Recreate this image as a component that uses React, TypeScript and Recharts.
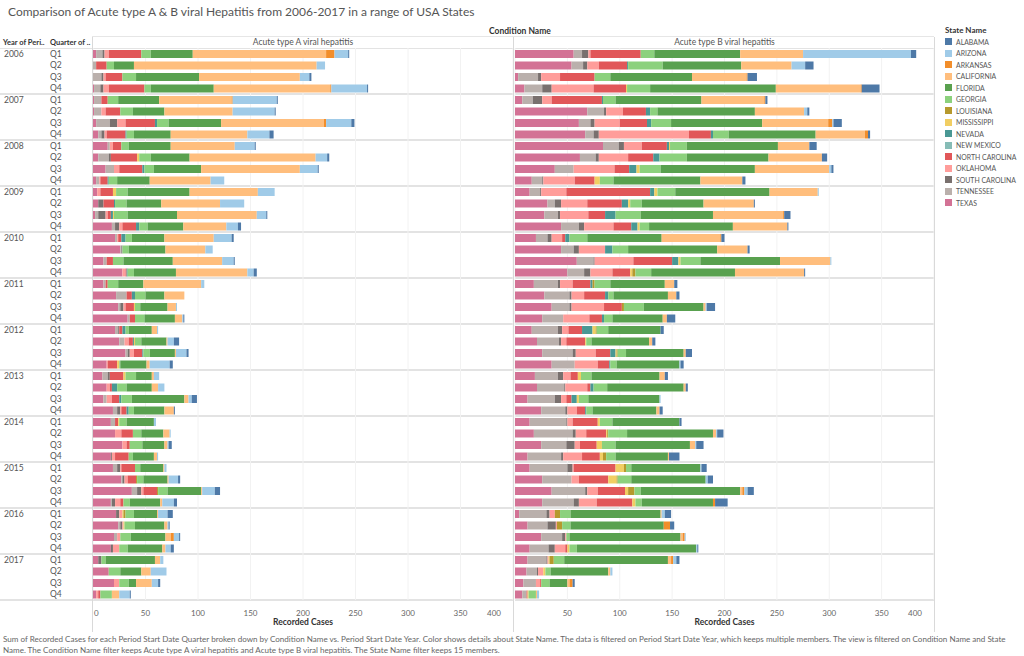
import { BarChart, Bar, XAxis, YAxis, CartesianGrid } from 'recharts'

const years = [2006, 2007, 2008, 2009, 2010, 2011, 2012, 2013, 2014, 2015, 2016, 2017]
const quarters = ['Q1', 'Q2', 'Q3', 'Q4']
const xTicks = [0, 50, 100, 150, 200, 250, 300, 350, 400]

// legend order (alphabetical), bars stack in the reverse order
const legendStates = [
  'ALABAMA', 'ARIZONA', 'ARKANSAS', 'CALIFORNIA', 'FLORIDA', 'GEORGIA', 'LOUISIANA', 'MISSISSIPPI',
  'NEVADA', 'NEW MEXICO', 'NORTH CAROLINA', 'OKLAHOMA', 'SOUTH CAROLINA', 'TENNESSEE', 'TEXAS',
]
const stateColors = [
  '#4E79A7', '#A0CBE8', '#F28E2B', '#FFBE7D', '#59A14F', '#8CD17D', '#B6992D', '#F1CE63',
  '#499894', '#86BCB6', '#E15759', '#FF9D9A', '#79706E', '#BAB0AC', '#D37295',
]

// Acute type A viral hepatitis, 2006 Q1 .. 2017 Q4
const alA = [1, 0, 2, 1, 1, 1, 3, 4, 1, 2, 1, 0, 0, 0, 1, 3, 2, 0, 1, 3, 0, 0, 0, 1, 0, 5, 2, 3, 0, 0, 5, 1, 0, 0, 3, 0, 0, 2, 5, 3, 5, 1, 1, 3, 0, 0, 2, 1]
const azA = [13, 8, 9, 34, 42, 40, 24, 21, 19, 11, 17, 13, 16, 23, 9, 11, 17, 7, 11, 6, 3, 0, 1, 1, 1, 6, 10, 19, 5, 6, 3, 0, 2, 1, 1, 1, 2, 9, 12, 11, 9, 1, 5, 5, 3, 15, 6, 10]
const arA = [8, 0, 0, 1, 1, 0, 2, 0, 0, 0, 0, 0, 0, 0, 0, 0, 0, 0, 0, 0, 0, 0, 0, 0, 0, 0, 0, 0, 0, 0, 0, 0, 0, 0, 0, 0, 0, 0, 0, 0, 0, 0, 3, 0, 0, 0, 0, 0]
const caA = [127, 174, 96, 111, 69, 65, 98, 73, 61, 120, 94, 58, 65, 56, 76, 41, 47, 38, 47, 68, 55, 19, 8, 7, 5, 1, 1, 3, 2, 6, 4, 9, 0, 6, 3, 3, 1, 1, 1, 2, 1, 3, 5, 3, 5, 9, 15, 7]
const flA = [40, 19, 60, 60, 39, 30, 50, 35, 40, 37, 45, 31, 59, 33, 47, 34, 31, 35, 47, 40, 24, 18, 26, 29, 22, 24, 24, 25, 15, 24, 50, 29, 26, 21, 21, 20, 22, 23, 32, 29, 22, 28, 33, 33, 47, 20, 7, 0]
const gaA = [9, 7, 13, 6, 10, 12, 11, 7, 7, 11, 9, 8, 11, 11, 13, 8, 6, 6, 10, 6, 10, 10, 5, 9, 3, 6, 6, 1, 10, 9, 10, 5, 7, 8, 12, 4, 5, 6, 9, 6, 8, 10, 10, 8, 4, 11, 9, 11]
const laA = [0, 0, 0, 0, 0, 0, 0, 0, 0, 0, 0, 0, 0, 0, 0, 0, 0, 0, 0, 0, 0, 0, 0, 0, 0, 0, 0, 0, 0, 0, 0, 0, 0, 0, 0, 0, 0, 1, 1, 0, 2, 0, 0, 0, 0, 0, 0, 0]
const msA = [0, 0, 0, 0, 0, 0, 0, 0, 0, 2, 0, 0, 3, 0, 1, 0, 0, 0, 0, 0, 0, 0, 1, 0, 0, 1, 0, 2, 2, 0, 0, 0, 1, 0, 0, 0, 0, 0, 0, 0, 1, 1, 0, 0, 0, 0, 0, 0]
const nvA = [0, 0, 0, 0, 0, 0, 2, 1, 0, 0, 2, 1, 0, 1, 2, 3, 4, 0, 0, 1, 0, 3, 0, 0, 3, 1, 1, 0, 0, 5, 2, 2, 0, 0, 0, 0, 0, 0, 0, 0, 0, 0, 0, 0, 0, 0, 0, 0]
const nmA = [0, 0, 0, 0, 0, 0, 0, 0, 0, 0, 0, 0, 0, 0, 0, 0, 0, 0, 0, 0, 0, 0, 0, 0, 0, 0, 0, 0, 0, 0, 0, 0, 0, 0, 0, 0, 0, 0, 0, 0, 0, 0, 0, 0, 0, 0, 0, 0]
const ncA = [31, 10, 16, 34, 6, 14, 28, 18, 8, 25, 22, 7, 12, 10, 3, 13, 3, 0, 6, 1, 2, 5, 8, 5, 3, 4, 8, 9, 13, 2, 7, 5, 3, 11, 3, 13, 13, 8, 13, 3, 0, 0, 0, 0, 0, 0, 0, 2]
const okA = [4, 0, 2, 5, 0, 4, 8, 2, 3, 0, 5, 1, 3, 0, 2, 3, 1, 0, 0, 3, 0, 0, 2, 0, 0, 4, 4, 1, 0, 3, 5, 1, 0, 6, 4, 3, 1, 3, 2, 5, 3, 1, 3, 6, 0, 0, 5, 2]
const scA = [2, 0, 2, 3, 0, 0, 7, 3, 0, 2, 0, 0, 0, 5, 7, 4, 0, 1, 0, 0, 0, 0, 3, 0, 1, 0, 2, 0, 2, 0, 0, 3, 0, 0, 0, 1, 3, 2, 4, 3, 3, 2, 0, 2, 3, 0, 0, 0]
const tnA = [6, 3, 8, 6, 7, 7, 13, 3, 2, 10, 8, 3, 0, 0, 3, 3, 2, 1, 3, 0, 2, 10, 2, 2, 3, 5, 2, 0, 5, 0, 3, 4, 4, 0, 0, 0, 4, 1, 5, 1, 0, 2, 3, 0, 0, 0, 0, 0]
const txA = [3, 0, 0, 1, 1, 1, 3, 5, 14, 5, 12, 3, 4, 5, 2, 18, 21, 26, 10, 28, 10, 22, 24, 33, 21, 25, 31, 13, 9, 13, 10, 19, 17, 21, 28, 17, 19, 27, 37, 17, 22, 24, 20, 17, 5, 15, 20, 3]

// Acute type B viral hepatitis, 2006 Q1 .. 2017 Q4
const alB = [5, 8, 9, 17, 2, 2, 8, 2, 7, 5, 2, 3, 0, 1, 6, 1, 3, 2, 0, 1, 3, 3, 8, 8, 3, 3, 6, 3, 3, 2, 0, 3, 2, 6, 7, 10, 5, 5, 6, 12, 6, 4, 0, 1, 3, 0, 2, 0]
const azB = [103, 13, 0, 0, 0, 3, 1, 0, 0, 0, 2, 0, 1, 0, 0, 0, 0, 0, 1, 0, 0, 0, 1, 0, 0, 0, 0, 1, 0, 0, 1, 0, 0, 1, 1, 0, 1, 2, 3, 0, 3, 0, 1, 1, 3, 2, 0, 2]
const arB = [0, 0, 1, 1, 1, 0, 4, 3, 0, 0, 0, 0, 0, 0, 1, 0, 1, 0, 0, 0, 0, 0, 0, 0, 0, 0, 0, 0, 0, 0, 0, 0, 0, 0, 0, 0, 0, 0, 2, 2, 0, 6, 2, 0, 2, 0, 3, 0]
const caB = [60, 48, 52, 81, 60, 47, 63, 47, 30, 51, 71, 40, 46, 48, 67, 52, 56, 29, 48, 66, 9, 8, 2, 4, 0, 3, 2, 0, 5, 2, 0, 3, 0, 3, 5, 1, 0, 0, 2, 0, 1, 0, 2, 0, 3, 2, 2, 1]
const flB = [82, 75, 78, 120, 82, 93, 87, 83, 87, 78, 90, 83, 90, 59, 69, 80, 71, 85, 76, 80, 52, 52, 57, 48, 50, 55, 55, 60, 65, 73, 68, 61, 64, 82, 71, 50, 66, 71, 95, 68, 86, 89, 106, 114, 99, 55, 17, 0]
const gaB = [13, 33, 15, 22, 12, 7, 19, 15, 16, 26, 20, 13, 17, 11, 24, 9, 17, 15, 19, 15, 15, 5, 19, 8, 11, 5, 8, 6, 10, 13, 9, 6, 12, 18, 13, 9, 5, 13, 6, 6, 10, 8, 3, 7, 10, 5, 8, 7]
const laB = [0, 0, 0, 0, 0, 0, 0, 0, 0, 0, 0, 0, 0, 0, 0, 0, 0, 0, 0, 3, 2, 0, 2, 0, 1, 0, 1, 0, 0, 0, 0, 0, 0, 1, 0, 3, 2, 1, 6, 0, 5, 5, 0, 0, 4, 0, 0, 0]
const msB = [0, 0, 0, 1, 0, 0, 0, 0, 1, 0, 3, 5, 3, 2, 0, 2, 0, 0, 2, 2, 0, 0, 0, 0, 3, 1, 1, 0, 3, 0, 2, 0, 2, 1, 5, 3, 8, 8, 3, 3, 0, 0, 0, 2, 1, 2, 0, 1]
const nvB = [0, 1, 0, 0, 1, 4, 4, 2, 2, 6, 7, 0, 4, 6, 10, 6, 4, 7, 6, 0, 2, 3, 0, 2, 10, 0, 5, 1, 0, 3, 5, 1, 0, 0, 0, 0, 0, 0, 0, 0, 0, 0, 0, 0, 0, 0, 0, 0]
const nmB = [0, 0, 0, 0, 0, 0, 0, 0, 0, 0, 0, 0, 0, 0, 0, 0, 0, 0, 0, 0, 0, 0, 0, 0, 0, 0, 0, 0, 0, 0, 0, 0, 0, 0, 0, 0, 0, 0, 0, 0, 0, 0, 0, 0, 0, 0, 0, 0]
const ncB = [48, 27, 33, 31, 48, 22, 26, 21, 24, 24, 14, 19, 80, 33, 16, 17, 3, 0, 37, 17, 17, 20, 17, 12, 13, 18, 14, 11, 7, 3, 5, 8, 24, 19, 16, 17, 40, 28, 26, 34, 0, 0, 0, 2, 0, 0, 1, 1]
const okB = [2, 11, 18, 40, 9, 16, 24, 86, 17, 28, 39, 30, 24, 25, 27, 28, 10, 25, 37, 21, 12, 12, 31, 25, 6, 5, 19, 22, 7, 21, 5, 9, 5, 10, 5, 18, 1, 7, 10, 17, 5, 1, 1, 10, 1, 5, 4, 0]
const scB = [6, 4, 3, 9, 9, 2, 4, 5, 5, 3, 0, 1, 1, 6, 2, 5, 4, 5, 1, 6, 2, 2, 2, 0, 4, 2, 3, 0, 5, 1, 6, 2, 1, 3, 8, 2, 5, 0, 2, 5, 3, 8, 3, 6, 1, 1, 0, 0]
const tnB = [8, 11, 19, 17, 10, 16, 11, 8, 15, 15, 18, 10, 10, 7, 13, 17, 11, 12, 16, 16, 23, 24, 17, 20, 25, 21, 29, 22, 22, 26, 26, 23, 35, 37, 24, 32, 36, 28, 32, 30, 26, 19, 20, 18, 18, 10, 12, 4]
const txB = [56, 54, 3, 9, 7, 69, 61, 67, 84, 62, 38, 16, 14, 31, 28, 44, 20, 44, 59, 50, 18, 28, 35, 26, 16, 21, 26, 35, 19, 21, 12, 25, 14, 18, 25, 12, 14, 26, 35, 26, 4, 12, 25, 14, 12, 11, 8, 7]

const seriesA = [alA, azA, arA, caA, flA, gaA, laA, msA, nvA, nmA, ncA, okA, scA, tnA, txA]
const seriesB = [alB, azB, arB, caB, flB, gaB, laB, msB, nvB, nmB, ncB, okB, scB, tnB, txB]

const keys = years.flatMap((y) => quarters.map((q) => `${y}-${q}`))

function buildRows(series: number[][]) {
  return keys.map((key, i) => {
    const row: Record<string, string | number> = { key }
    legendStates.forEach((s, j) => {
      row[s] = series[j][i]
    })
    return row
  })
}

const dataA = buildRows(seriesA)
const dataB = buildRows(seriesB)
const stackOrder = [...legendStates].reverse()

const FONT = '"Lato", "Open Sans", sans-serif'
const CHART_TOP = 47.5
const PLOT_H = 552
const ROW_H = PLOT_H / keys.length

// year separators: boundaries of every 4th row
const yearLines = ({ offset }: any) =>
  years.concat([0]).map((_, k) => offset.top + (offset.height * k) / years.length)

function RowTick(props: any) {
  const { y, payload, index } = props
  const [yr, q] = String(payload.value).split('-')
  return (
    <g>
      {q === 'Q1' && (
        <line x1={0} x2={93} y1={y - ROW_H / 2} y2={y - ROW_H / 2} stroke="#e3e3e3" strokeWidth={2} />
      )}
      {index === keys.length - 1 && (
        <line x1={0} x2={93} y1={y + ROW_H / 2} y2={y + ROW_H / 2} stroke="#e3e3e3" strokeWidth={2} />
      )}
      {q === 'Q1' && (
        <text x={4} y={y} dy={3} fontSize={8.5} fill="#555" fontFamily={FONT}>
          {yr}
        </text>
      )}
      <text x={50} y={y} dy={3} fontSize={8.5} fill="#555" fontFamily={FONT}>
        {q}
      </text>
    </g>
  )
}

function ValueTick(props: any) {
  const { x, y, payload } = props
  const v = payload.value
  const anchor = v === 0 ? 'start' : v === 400 ? 'end' : 'middle'
  return (
    <text x={v === 0 ? x + 1 : x} y={y} dy={8} fontSize={8} fill="#666" fontFamily={FONT} textAnchor={anchor}>
      {v}
    </text>
  )
}

function Panel({ data, left, width, withRows }: { data: any[]; left: number; width: number; withRows: boolean }) {
  return (
    <div style={{ position: 'absolute', left, top: CHART_TOP }}>
      <BarChart
        width={width}
        height={PLOT_H + 20}
        data={data}
        layout="vertical"
        barSize={8}
        margin={{ top: 0, right: 0, bottom: 0, left: withRows ? 0 : 3 }}
      >
        <CartesianGrid vertical={false} horizontalCoordinatesGenerator={yearLines} stroke="#e3e3e3" strokeWidth={2} />
        <CartesianGrid horizontal={false} stroke="#f2f2f2" />
        <XAxis
          type="number"
          domain={[0, 400]}
          ticks={xTicks}
          axisLine={false}
          tickLine={false}
          height={20}
          tick={<ValueTick />}
        />
        <YAxis
          type="category"
          dataKey="key"
          width={withRows ? 93 : 0}
          hide={!withRows}
          axisLine={false}
          tickLine={false}
          interval={0}
          tick={<RowTick />}
        />
        {stackOrder.map((s) => (
          <Bar
            key={s}
            dataKey={s}
            stackId="cases"
            fill={stateColors[legendStates.indexOf(s)]}
            isAnimationActive={false}
          />
        ))}
      </BarChart>
    </div>
  )
}

const vline = (x: number) => (
  <div style={{ position: 'absolute', left: x, top: 37, width: 1, height: 595, background: '#d9d9d9' }} />
)

export default function App() {
  const small = { fontFamily: FONT, fontSize: 8.5, color: '#555', position: 'absolute' as const, whiteSpace: 'nowrap' as const, lineHeight: '11px' }
  return (
    <div style={{ position: 'absolute', left: 0, top: 0, width: 1024, height: 656, background: '#fff', overflow: 'hidden', fontFamily: FONT }}>
      <div style={{ position: 'absolute', left: 8, top: 4, fontSize: 12, lineHeight: '16px', color: '#555', whiteSpace: 'nowrap' }}>
        Comparison of Acute type A &amp; B viral Hepatitis from 2006-2017 in a range of USA States
      </div>
      <div style={{ ...small, left: 489, top: 26, fontWeight: 700, color: '#333' }}>Condition Name</div>
      <div style={{ ...small, left: 3, top: 37, fontSize: 7.5, fontWeight: 700, color: '#333' }}>Year of Peri..</div>
      <div style={{ ...small, left: 50, top: 37, fontSize: 7.5, fontWeight: 700, color: '#333' }}>Quarter of ..</div>
      <div style={{ ...small, left: 93, width: 420, top: 37, textAlign: 'center' }}>Acute type A viral hepatitis</div>
      <div style={{ ...small, left: 515, width: 419, top: 37, textAlign: 'center' }}>Acute type B viral hepatitis</div>
      <div style={{ position: 'absolute', left: 92, top: 36, width: 842, height: 1, background: '#e6e6e6' }} />

      <Panel data={dataA} left={0} width={513} withRows />
      <Panel data={dataB} left={512} width={422} withRows={false} />

      {vline(92)}
      {vline(513)}
      {vline(934)}

      <div style={{ ...small, left: 93, width: 420, top: 617, textAlign: 'center', color: '#333', fontWeight: 700 }}>Recorded Cases</div>
      <div style={{ ...small, left: 515, width: 419, top: 617, textAlign: 'center', color: '#333', fontWeight: 700 }}>Recorded Cases</div>

      <div style={{ position: 'absolute', left: 945, top: 25, fontFamily: FONT }}>
        <div style={{ fontSize: 8, fontWeight: 700, color: '#333', lineHeight: '11px' }}>State Name</div>
        {legendStates.map((s, i) => (
          <div key={s} style={{ display: 'flex', alignItems: 'center', height: 11.5 }}>
            <div style={{ width: 7, height: 7, background: stateColors[i], marginRight: 4 }} />
            <span style={{ fontSize: 6.9, color: '#555', whiteSpace: 'nowrap' }}>{s}</span>
          </div>
        ))}
      </div>

      <div style={{ position: 'absolute', left: 3, top: 634, fontSize: 8.05, lineHeight: '11px', color: '#666', whiteSpace: 'nowrap' }}>
        Sum of Recorded Cases for each Period Start Date Quarter broken down by Condition Name vs. Period Start Date Year.  Color shows details about State Name. The data is filtered on Period Start Date Year, which keeps multiple members. The view is filtered on Condition Name and State
        <br />
        Name. The Condition Name filter keeps Acute type A viral hepatitis and Acute type B viral hepatitis. The State Name filter keeps 15 members.
      </div>
    </div>
  )
}
